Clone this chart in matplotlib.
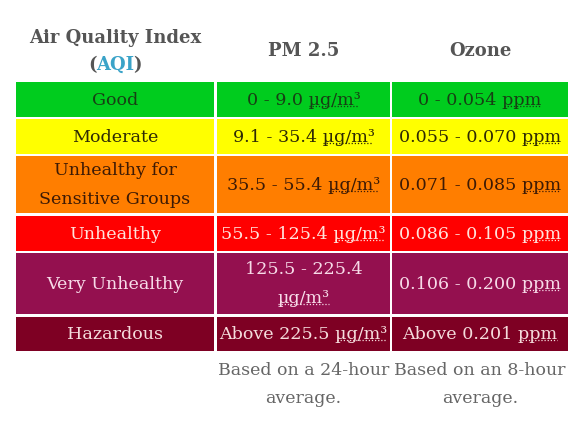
import matplotlib
matplotlib.use("Agg")
from matplotlib import pyplot as plt
from matplotlib.patches import Rectangle

# table content
categories = ["Good", "Moderate", "Unhealthy for\nSensitive Groups", "Unhealthy",
              "Very Unhealthy", "Hazardous"]
pm25 = ["0 - 9.0 µg/m³", "9.1 - 35.4 µg/m³", "35.5 - 55.4 µg/m³", "55.5 - 125.4 µg/m³",
        "125.5 - 225.4\nµg/m³", "Above 225.5 µg/m³"]
ozone = ["0 - 0.054 ppm", "0.055 - 0.070 ppm", "0.071 - 0.085 ppm", "0.086 - 0.105 ppm",
         "0.106 - 0.200 ppm", "Above 0.201 ppm"]
headers = ["Air Quality Index\n(AQI)", "PM 2.5", "Ozone"]
footnotes = ["", "Based on a 24-hour\naverage.", "Based on an 8-hour\naverage."]
units = ["µg/m³", "ppm"]

row_colors = ["#00cc1e", "#ffff00", "#ff7e00", "#ff0000", "#94104f", "#7e0023"]
text_colors = ["#173f14", "#2e2a05", "#3d1a05", "#ffe3dc", "#f7dbe8", "#f5dcdc"]

# layout in pixel units
col_edges = [(16, 214), (217, 390), (392, 568)]
row_tops = [83, 120, 157, 217, 254, 318]
row_bots = [118, 155, 214, 252, 315, 352]
LINE = 29   # line step inside cells

FONT = "DejaVu Serif"
FS = 12.6

fig = plt.figure(figsize=(5.8, 4.35), dpi=100)
ax = fig.add_axes([0, 0, 1, 1])
ax.set_xlim(0, 580)
ax.set_ylim(435, 0)
ax.axis("off")
renderer = fig.canvas.get_renderer()

cx = [(a + b) / 2 for a, b in col_edges]


def text_width(s, **kw):
    t = ax.text(0, 0, s, fontsize=FS, family=FONT, **kw)
    bb = t.get_window_extent(renderer)
    t.remove()
    return bb.width


def multiline(x, ymid, s, step, **kw):
    lines = s.split("\n")
    y0 = ymid - step * (len(lines) - 1) / 2
    out = []
    for k, ln in enumerate(lines):
        out.append(ax.text(x, y0 + k * step, ln, ha="center", va="center",
                           family=FONT, **kw))
    return out


def underline_unit(t, color):
    # dotted underline under the unit, like an <abbr> tag
    s = t.get_text()
    for u in units:
        if s.endswith(u):
            bb = t.get_window_extent(renderer)
            w_unit = text_width(u)
            x1 = bb.x1
            x0 = x1 - w_unit
            y = 435 - bb.y0 - 2.5
            ax.plot([x0 + 1, x1 - 1], [y, y], color=color, lw=0.9,
                    linestyle=(0, (1, 1.5)))


# header
ax.text(cx[0], 38, "Air Quality Index", ha="center", va="center", fontsize=13,
        fontweight="bold", color="#555555", family=FONT)
ax.text(cx[0] - 22, 65, "(", ha="center", va="center", fontsize=13,
        fontweight="bold", color="#555555", family=FONT)
ax.text(cx[0], 65, "AQI", ha="center", va="center", fontsize=13,
        fontweight="bold", color="#3aa3c8", family=FONT)
ax.text(cx[0] + 22, 65, ")", ha="center", va="center", fontsize=13,
        fontweight="bold", color="#555555", family=FONT)
for j in (1, 2):
    ax.text(cx[j], 51, headers[j], ha="center", va="center", fontsize=13,
            fontweight="bold", color="#555555", family=FONT)

# cells
for i in range(len(categories)):
    top, bot = row_tops[i], row_bots[i]
    mid = (top + bot) / 2
    for j, (x0, x1) in enumerate(col_edges):
        ax.add_patch(Rectangle((x0, top), x1 - x0, bot - top,
                               facecolor=row_colors[i], edgecolor="none"))
    vals = [categories[i], pm25[i], ozone[i]]
    for j, v in enumerate(vals):
        ts = multiline(cx[j], mid, v, LINE, fontsize=FS, color=text_colors[i])
        if j > 0:
            underline_unit(ts[-1], text_colors[i])

# footnotes
for j in (1, 2):
    multiline(cx[j], 385, footnotes[j], 28, fontsize=12.5, color="#666666")

fig.savefig("out.png", dpi=100)
